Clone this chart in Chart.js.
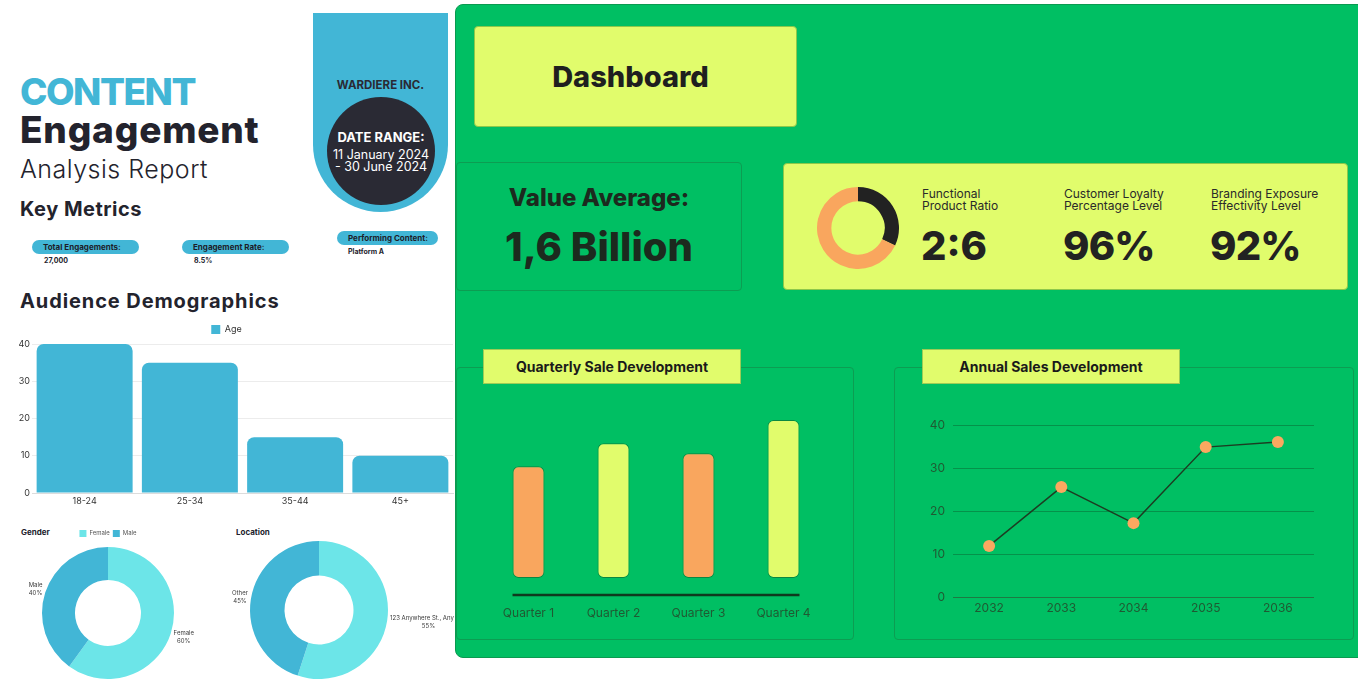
<!DOCTYPE html>
<html lang="en">
<head>
<meta charset="UTF-8" />
<title>Content Engagement Dashboard</title>
<script src="https://cdn.jsdelivr.net/npm/chart.js"></script>
<style>
  body{margin:0;width:1358px;height:685px;background:#fff;position:relative;overflow:hidden;font-family:Inter,"Noto Sans",sans-serif;color:#22222c}
  .abs{position:absolute}
  .t{position:absolute;white-space:nowrap;line-height:1}
  .ribbon{left:313px;top:13px;width:135px;height:199px;background:#42b6d6;border-radius:0 0 68px 68px}
  .disc{left:327px;top:97px;width:108px;height:108px;border-radius:50%;background:#2a2a34}
  .pill{position:absolute;height:14px;border-radius:7px;background:#42b6d6;font-size:8px;font-weight:700;line-height:14px;padding-left:11px;box-sizing:border-box;color:#1d1d29}
  .small{font-size:7px;font-weight:700}
  #green{left:455px;top:4px;width:920px;height:652px;background:#00bf63;border:1px solid #0a9a50;border-radius:8px;z-index:2}
  .lime{background:#e1fc6c;border:1px solid #8cc84a;border-radius:4px}
  .box{border:1px solid #0c9d52;border-radius:4px}
  .tab{background:#e1fc6c;border:1px solid #9ccc56;font-weight:700;font-size:14px;text-align:center;line-height:33px;color:#1a1a1a}
  .kl{font-size:12px;line-height:12px;color:#2a2a2a}
  .kv{font-size:40px;font-weight:800;color:#222}
</style>
</head>
<body>
  <!-- left report -->
  <div class="t" style="left:20px;top:73px;font-size:37px;font-weight:800;color:#42b6d6;letter-spacing:-1.5px">CONTENT</div>
  <div class="t" style="left:20px;top:111px;font-size:37px;font-weight:800;color:#23232d;letter-spacing:0.8px">Engagement</div>
  <div class="t" style="left:20px;top:157px;font-size:25px;font-weight:300;color:#23232d;letter-spacing:0.5px">Analysis Report</div>
  <div class="t" style="left:20px;top:199px;font-size:20px;font-weight:700;color:#23232d;letter-spacing:0.5px">Key Metrics</div>

  <div class="abs ribbon"></div>
  <div class="abs disc"></div>
  <div class="t" style="left:313px;width:135px;top:80px;text-align:center;font-size:11.5px;font-weight:700;color:#2a2a34">WARDIERE INC.</div>
  <div class="t" style="left:327px;width:108px;top:131px;text-align:center;font-size:13px;font-weight:700;color:#fff">DATE RANGE:</div>
  <div class="t" style="left:322px;width:118px;top:149px;text-align:center;font-size:12.5px;color:#fff;line-height:12px">11 January 2024<br>- 30 June 2024</div>

  <div class="pill" style="left:32px;top:240px;width:107px">Total Engagements:</div>
  <div class="t small" style="left:44px;top:257px">27,000</div>
  <div class="pill" style="left:182px;top:240px;width:107px">Engagement Rate:</div>
  <div class="t small" style="left:194px;top:257px">8.5%</div>
  <div class="pill" style="left:337px;top:231px;width:101px">Performing Content:</div>
  <div class="t small" style="left:348px;top:248px">Platform A</div>

  <div class="t" style="left:20px;top:291px;font-size:20px;font-weight:700;color:#23232d;letter-spacing:0.9px">Audience Demographics</div>

  <div class="abs" style="left:0;top:318px;width:455px;height:195px"><canvas id="age"></canvas></div>

  <div class="t" style="left:21px;top:528px;font-size:8px;font-weight:700">Gender</div>
  <div class="abs" style="left:8px;top:527px;width:200px;height:152px"><canvas id="gender"></canvas></div>
  <div class="t" style="left:236px;top:528px;font-size:8px;font-weight:700">Location</div>
  <div class="abs" style="left:178px;top:541px;width:282px;height:138px"><canvas id="location"></canvas></div>

  <!-- green dashboard -->
  <div class="abs" id="green">
    <div class="abs lime" style="left:18px;top:21px;width:321px;height:99px"></div>
    <div class="t" style="left:13px;top:57px;width:323px;text-align:center;font-size:29px;font-weight:800;color:#1f1f1f">Dashboard</div>

    <div class="abs box" style="left:0;top:157px;width:284px;height:127px"></div>
    <div class="t" style="left:0;top:181px;width:286px;text-align:center;font-size:24px;font-weight:800;color:#1c2a1e">Value Average:</div>
    <div class="t" style="left:0;top:222px;width:286px;text-align:center;font-size:40px;font-weight:800;color:#1c2a1e">1,6 Billion</div>

    <div class="abs lime" style="left:327px;top:158px;width:563px;height:125px"></div>
    <div class="abs" style="left:361px;top:182px;width:82px;height:82px"><canvas id="ratio"></canvas></div>
    <div class="t kl" style="left:466px;top:183px">Functional<br>Product Ratio</div>
    <div class="t kv" style="left:465px;top:221px">2:6</div>
    <div class="t kl" style="left:608px;top:183px">Customer Loyalty<br>Percentage Level</div>
    <div class="t kv" style="left:607px;top:221px;letter-spacing:-0.8px">96%</div>
    <div class="t kl" style="left:755px;top:183px">Branding Exposure<br>Effectivity Level</div>
    <div class="t kv" style="left:754px;top:221px;letter-spacing:-0.8px">92%</div>

    <div class="abs box" style="left:0;top:362px;width:396px;height:271px"></div>
    <div class="abs tab" style="left:27px;top:344px;width:256px;height:33px">Quarterly Sale Development</div>
    <div class="abs" style="left:15px;top:400px;width:370px;height:215px"><canvas id="quarter"></canvas></div>

    <div class="abs box" style="left:438px;top:362px;width:458px;height:271px"></div>
    <div class="abs tab" style="left:466px;top:344px;width:256px;height:33px">Annual Sales Development</div>
    <div class="abs" style="left:460px;top:405px;width:410px;height:215px"><canvas id="annual"></canvas></div>
  </div>

<script>
const ageLabels = ['18-24', '25-34', '35-44', '45+'];
const ageValues = [40, 35, 15, 10];
const ageTicks = [0, 10, 20, 30, 40];

const genderLabels = ['Female', 'Male'];
const genderValues = [60, 40];
const locationLabels = ['123 Anywhere St., Any City', 'Other'];
const locationValues = [55, 45];

const ratioLabels = ['Functional', 'Product'];
const ratioValues = [32, 68];

const quarterLabels = ['Quarter 1', 'Quarter 2', 'Quarter 3', 'Quarter 4'];
const quarterValues = [28.3, 34.1, 31.6, 40];

const yearLabels = ['2032', '2033', '2034', '2035', '2036'];
const yearValues = [11.9, 25.6, 17.2, 34.9, 36.1];

const FONT = 'Inter, "Noto Sans", sans-serif';
Chart.defaults.font.family = FONT;
Chart.defaults.animation = false;
Chart.defaults.responsive = true;
Chart.defaults.maintainAspectRatio = false;
Chart.defaults.plugins.tooltip.enabled = false;

const BLUE = '#42b6d6', CYAN = '#6ce5e8';

/* labels next to doughnut slices */
const sliceLabels = {
  id: 'sliceLabels',
  afterDatasetsDraw(chart, args, opts) {
    if (!opts.show) return;
    const ctx = chart.ctx;
    const values = chart.data.datasets[0].data;
    ctx.save();
    ctx.font = '6px ' + FONT;
    ctx.fillStyle = '#3a3a3a';
    ctx.textAlign = 'center';
    ctx.textBaseline = 'middle';
    chart.getDatasetMeta(0).data.forEach((arc, i) => {
      const mid = (arc.startAngle + arc.endAngle) / 2;
      const dx = Math.cos(mid), dy = Math.sin(mid);
      const lines = [chart.data.labels[i], values[i] + '%'];
      const w = Math.max(...lines.map(l => ctx.measureText(l).width));
      const ax = arc.x + dx * (arc.outerRadius + 3);
      const ay = arc.y + dy * (arc.outerRadius + 12);
      const cx = dx >= 0 ? ax + w / 2 : ax - w / 2;
      ctx.fillText(lines[0], cx, ay - 4);
      ctx.fillText(lines[1], cx, ay + 4);
    });
    ctx.restore();
  }
};

/* dark rule under the quarterly bars */
const baseLine = {
  id: 'baseLine',
  afterDatasetsDraw(chart, args, opts) {
    if (!opts.show) return;
    const bars = chart.getDatasetMeta(0).data;
    const a = bars[0], b = bars[bars.length - 1];
    const y = chart.chartArea.bottom;
    const ctx = chart.ctx;
    ctx.save();
    ctx.strokeStyle = '#0f3a1e';
    ctx.lineWidth = 2.5;
    ctx.beginPath();
    ctx.moveTo(a.x - a.width / 2, y);
    ctx.lineTo(b.x + b.width / 2, y);
    ctx.stroke();
    ctx.restore();
  }
};
Chart.register(sliceLabels, baseLine);

/* ---------- age bars ---------- */
new Chart(document.getElementById('age'), {
  type: 'bar',
  data: { labels: ageLabels, datasets: [{ label: 'Age', data: ageValues, backgroundColor: BLUE,
    borderRadius: { topLeft: 7, topRight: 7 }, borderSkipped: 'start', barPercentage: 0.912, categoryPercentage: 1 }] },
  options: {
    layout: { padding: { right: 2 } },
    plugins: { legend: { labels: { boxWidth: 9, boxHeight: 9, padding: 7, color: '#333', font: { size: 9 } } } },
    scales: {
      x: { grid: { display: false, drawTicks: false }, border: { color: '#dcdcdc' },
           ticks: { color: '#333', font: { size: 9 }, padding: 3 },
           afterFit(s) { s.height = 20; } },
      y: { min: 0, max: 40, afterBuildTicks(s) { s.ticks = ageTicks.map(v => ({ value: v })); },
           grid: { color: '#ececec', drawTicks: false }, border: { display: false },
           ticks: { color: '#333', font: { size: 9 }, padding: 2 },
           afterFit(s) { s.width = 32; } }
    }
  }
});

/* ---------- gender / location doughnuts ---------- */
new Chart(document.getElementById('gender'), {
  type: 'doughnut',
  data: { labels: genderLabels, datasets: [{ data: genderValues, backgroundColor: [CYAN, BLUE], borderWidth: 0 }] },
  options: {
    cutout: '50%',
    plugins: { sliceLabels: { show: true },
      legend: { labels: { boxWidth: 7, boxHeight: 7, padding: 3, color: '#555', font: { size: 6 } } } }
  }
});
new Chart(document.getElementById('location'), {
  type: 'doughnut',
  data: { labels: locationLabels, datasets: [{ data: locationValues, backgroundColor: [CYAN, BLUE], borderWidth: 0 }] },
  options: { cutout: '50%', plugins: { sliceLabels: { show: true }, legend: { display: false } } }
});

/* ---------- KPI ratio ring ---------- */
new Chart(document.getElementById('ratio'), {
  type: 'doughnut',
  data: { labels: ratioLabels, datasets: [{ data: ratioValues, backgroundColor: ['#222222', '#f9a65e'], borderWidth: 0 }] },
  options: { cutout: '65%', plugins: { legend: { display: false } } }
});

/* ---------- quarterly bars ---------- */
new Chart(document.getElementById('quarter'), {
  type: 'bar',
  data: { labels: quarterLabels, datasets: [{ data: quarterValues,
    backgroundColor: ['#f9a65e', '#e1fc6c', '#f9a65e', '#e1fc6c'],
    borderColor: 'rgba(20,90,40,0.55)', borderWidth: 1, borderRadius: 6, borderSkipped: false,
    barPercentage: 0.376, categoryPercentage: 1 }] },
  options: {
    layout: { padding: { left: 15, right: 15, top: 15 } },
    plugins: { legend: { display: false }, baseLine: { show: true } },
    scales: {
      x: { grid: { display: false, drawTicks: false }, border: { display: false },
           ticks: { color: '#1f5a33', font: { size: 12 }, padding: 11 },
           afterFit(s) { s.height = 25; } },
      y: { display: false, min: -4.3, max: 40 }
    }
  }
});

/* ---------- annual line ---------- */
new Chart(document.getElementById('annual'), {
  type: 'line',
  data: { labels: yearLabels, datasets: [{ data: yearValues, borderColor: '#1c3d22', borderWidth: 1.5,
    pointRadius: 6, pointBackgroundColor: '#fba860', pointBorderWidth: 0, tension: 0 }] },
  options: {
    layout: { padding: { right: 12, top: 5 } },
    plugins: { legend: { display: false } },
    scales: {
      x: { offset: true, grid: { display: false, drawTicks: false }, border: { display: false },
           ticks: { color: '#1f5a33', font: { size: 12 }, padding: 4 },
           afterFit(s) { s.height = 28; } },
      y: { min: 0, max: 40, ticks: { stepSize: 10, color: '#1f5a33', font: { size: 12 }, padding: 8 },
           grid: { color: c => c.tick.value === 0 ? '#1d7a42' : 'rgba(10,110,55,0.55)', drawTicks: false },
           border: { display: false },
           afterFit(s) { s.width = 37; } }
    }
  }
});
</script>
</body>
</html>
